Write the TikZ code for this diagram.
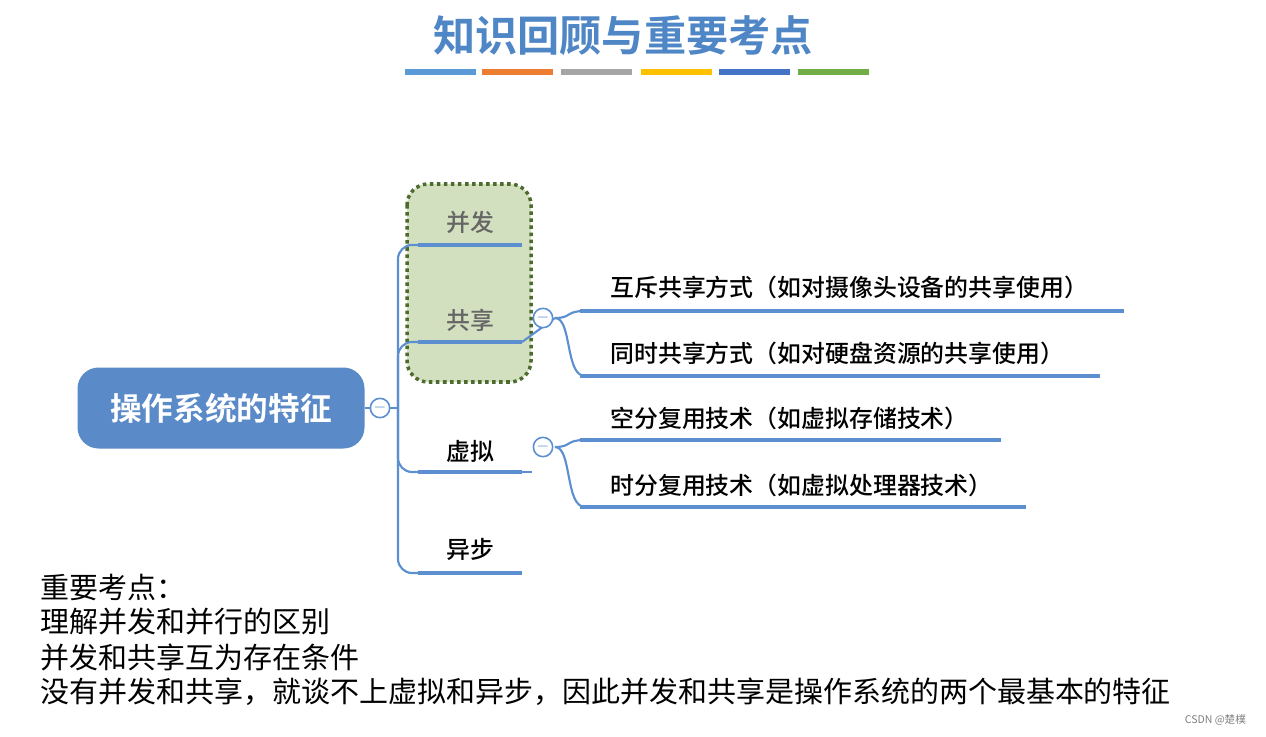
\documentclass[tikz,border=0pt]{standalone}
\usepackage{fontspec}
\newfontfamily\cjk{Noto Sans CJK SC}
\newfontfamily\cjkm{Noto Sans CJK SC Medium}
\newfontfamily\cjkb{Noto Sans CJK SC Bold}
\definecolor{tblue}{HTML}{4F86C6}
\definecolor{lblue}{HTML}{5B8FD0}
\definecolor{rootc}{HTML}{5A8AC8}
\definecolor{b1}{HTML}{5B9BD5}\definecolor{b2}{HTML}{ED7D31}\definecolor{b3}{HTML}{A5A5A5}
\definecolor{b4}{HTML}{FFC000}\definecolor{b5}{HTML}{4472C4}\definecolor{b6}{HTML}{70AD47}
\definecolor{gbord}{HTML}{4E6B2E}\definecolor{gfill}{HTML}{D3E0BF}
\begin{document}
\begin{tikzpicture}[x=0.02cm,y=-0.02cm,
  lab/.style={anchor=west,font=\cjkm\fontsize{13.6}{15}\selectfont,inner sep=0},
  br/.style={draw=lblue,line width=1.2pt,rounded corners=8pt},
  ul/.style={draw=lblue,line width=2.4pt},
  mc/.style={circle,draw=lblue,line width=0.9pt,fill=white,minimum size=11pt,inner sep=0,font=\cjk\fontsize{9}{9}\selectfont,text=lblue},
  note/.style={anchor=west,font=\cjk\fontsize{16.5}{18}\selectfont,inner sep=0}]
\useasboundingbox (0,0) rectangle (1266,736);
\fill[white] (0,0) rectangle (1266,736);
\node[font=\cjkb\fontsize{24}{26}\selectfont,text=tblue] (title) at (623,36) {知识回顾与重要考点};
\foreach \a/\c in {405/b1,482/b2,561/b3,641/b4,719/b5,798/b6}
  \fill[\c] (\a,69) rectangle ++(71,6);
% green dotted box
\draw[draw=gbord,fill=gfill,dotted,line width=2pt,rounded corners=12pt] (407,184) rectangle (531,382);
% root
\node[fill=rootc,rounded corners=12pt,minimum width=287*0.02cm,minimum height=81*0.02cm,text=white,font=\cjkb\fontsize{18}{20}\selectfont] (root) at (221,408) {操作系统的特征};
% branches
\coordinate (j) at (398,408);
\draw[br] (root.east) -- (j);
\draw[br] (j) |- (418,245);
\draw[br] (j) |- (418,342);
\draw[br] (j) |- (418,472);
\draw[br] (j) |- (418,573);
\draw[ul] (418,245) -- (522,245); \draw[ul] (418,342) -- (522,342);
\draw[ul] (418,472) -- (522,472); \draw[ul] (418,573) -- (522,573);
\node[mc] (m0) at (380,408) {$-$};
\node[lab,text=gray!80!black] (a) at (446,222) {并发};
\node[lab,text=gray!80!black] (b) at (446,320) {共享};
\node[lab] (c) at (446,451) {虚拟};
\node[lab] (d) at (446,549) {异步};
% share subs
\coordinate (s) at (555,318);
\draw[br] (522,342) -- (s);
\draw[lblue,line width=1.2pt] (s) .. controls (572,318) and (565,311) .. (585,311);
\draw[lblue,line width=1.2pt] (s) .. controls (572,318) and (565,376) .. (585,376);
\draw[ul] (580,311) -- (1124,311);
\draw[ul] (580,376) -- (1100,376);
\node[mc] (m1) at (543,318) {$-$};
\node[lab] (s1) at (610,287) {互斥共享方式（如对摄像头设备的共享使用）};
\node[lab] (s2) at (610,353) {同时共享方式（如对硬盘资源的共享使用）};
% virtual subs
\coordinate (v) at (555,447);
\draw[br] (522,472) -- (532,472);
\draw[lblue,line width=1.2pt] (v) .. controls (572,447) and (565,440) .. (585,440);
\draw[lblue,line width=1.2pt] (v) .. controls (572,447) and (565,507) .. (585,507);
\draw[ul] (580,440) -- (1001,440);
\draw[ul] (580,507) -- (1026,507);
\node[mc] (m2) at (543,447) {$-$};
\node[lab] (v1) at (610,418) {空分复用技术（如虚拟存储技术）};
\node[lab] (v2) at (610,485) {时分复用技术（如虚拟处理器技术）};
% notes
\node[note] (n1) at (40,587) {重要考点：};
\node[note] (n2) at (40,622) {理解并发和并行的区别};
\node[note] (n3) at (40,657) {并发和共享互为存在条件};
\node[note] (n4) at (40,692) {没有并发和共享，就谈不上虚拟和异步，因此并发和共享是操作系统的两个最基本的特征};
\node[anchor=east,font=\cjk\fontsize{6}{7}\selectfont,text=gray] (csdn) at (1252,720) {CSDN @楚樸};
\end{tikzpicture}
\end{document}
